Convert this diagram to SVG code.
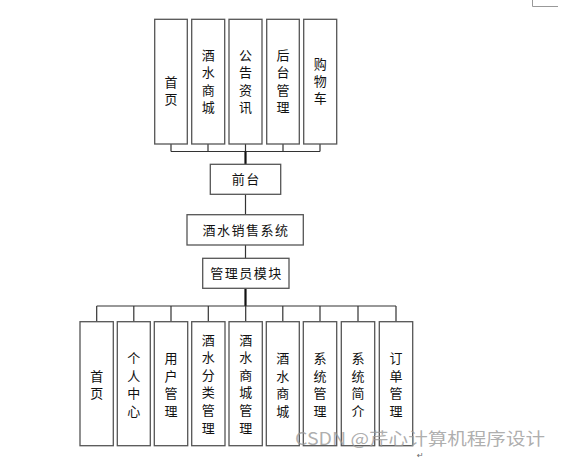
<svg xmlns="http://www.w3.org/2000/svg" width="562" height="459" viewBox="0 0 562 459">
<style>
.box{fill:#fff;stroke:#555;stroke-width:1.3}
.t{font-family:"Noto Sans CJK SC","Liberation Sans",sans-serif;font-size:13px;fill:#111;text-anchor:middle}
.ht{letter-spacing:1.5px}
.c{fill:none;stroke:#333;stroke-width:1.2}
.ct{fill:none;stroke:#111;stroke-width:2.2}
.wm{font-family:"Noto Sans CJK SC","Liberation Sans",sans-serif;font-size:17px;fill:#999;fill-opacity:0.8}
</style>
<rect width="562" height="459" fill="#fff"/>
<path d="M532.5,0 V6.5 H558" fill="none" stroke="#999" stroke-width="1"/>
<g id="connectors">
<path class="c" d="M171,144V151.5M208,144V151.5M245.5,144V151.5M283,144V151.5M320,144V151.5M171,151.5H320"/>
<path class="ct" d="M245.5,151.5V164.3"/>
<path class="c" d="M245.5,194.3V214.7M245.5,245V258.3"/>
<path class="ct" d="M245.5,288.3V306"/>
<path class="c" d="M96.7,306H396M96.7,306V321.7M133.8,306V321.7M171,306V321.7M208.3,306V321.7M245.7,306V321.7M282.8,306V321.7M320,306V321.7M358,306V321.7M396,306V321.7"/>
</g>
<g id="n_home_top"><rect class="box" x="154.7" y="19.3" width="32.6" height="124.7"/><text class="t" x="171" y="86.5">首<tspan x="171" dy="17.5">页</tspan></text></g>
<g id="n_shop_top"><rect class="box" x="191.7" y="19.3" width="33" height="124.7"/><text class="t" x="208.2" y="60">酒<tspan x="208.2" dy="17.4">水</tspan><tspan x="208.2" dy="17.4">商</tspan><tspan x="208.2" dy="17.4">城</tspan></text></g>
<g id="n_news"><rect class="box" x="229" y="19.3" width="33" height="124.7"/><text class="t" x="245.5" y="60">公<tspan x="245.5" dy="17.4">告</tspan><tspan x="245.5" dy="17.4">资</tspan><tspan x="245.5" dy="17.4">讯</tspan></text></g>
<g id="n_backend"><rect class="box" x="266.7" y="19.3" width="32.6" height="124.7"/><text class="t" x="283" y="60">后<tspan x="283" dy="17.4">台</tspan><tspan x="283" dy="17.4">管</tspan><tspan x="283" dy="17.4">理</tspan></text></g>
<g id="n_cart"><rect class="box" x="303.7" y="19.3" width="33" height="124.7"/><text class="t" x="320.2" y="68.5">购<tspan x="320.2" dy="17.4">物</tspan><tspan x="320.2" dy="17.4">车</tspan></text></g>
<g id="n_front"><rect class="box" x="210.3" y="164.3" width="70.4" height="30"/><text class="t ht" x="246.3" y="184.3">前台</text></g>
<g id="n_system"><rect class="box" x="187" y="214.7" width="116.3" height="30.3"/><text class="t ht" x="246" y="234.8">酒水销售系统</text></g>
<g id="n_admin"><rect class="box" x="202.7" y="258.3" width="86.3" height="30"/><text class="t ht" x="246.6" y="278.3">管理员模块</text></g>
<g id="n_home"><rect class="box" x="80" y="321.7" width="33.3" height="124"/><text class="t" x="96.7" y="380.5">首<tspan x="96.7" dy="17.5">页</tspan></text></g>
<g id="n_personal"><rect class="box" x="117.3" y="321.7" width="33" height="124"/><text class="t" x="133.8" y="363">个<tspan x="133.8" dy="17.5">人</tspan><tspan x="133.8" dy="17.5">中</tspan><tspan x="133.8" dy="17.5">心</tspan></text></g>
<g id="n_user"><rect class="box" x="154.3" y="321.7" width="33.4" height="124"/><text class="t" x="171" y="363">用<tspan x="171" dy="17.5">户</tspan><tspan x="171" dy="17.5">管</tspan><tspan x="171" dy="17.5">理</tspan></text></g>
<g id="n_category"><rect class="box" x="191.7" y="321.7" width="33.3" height="124"/><text class="t" x="208.3" y="344.5">酒<tspan x="208.3" dy="17.6">水</tspan><tspan x="208.3" dy="17.6">分</tspan><tspan x="208.3" dy="17.6">类</tspan><tspan x="208.3" dy="17.6">管</tspan><tspan x="208.3" dy="17.6">理</tspan></text></g>
<g id="n_shopmgr"><rect class="box" x="229" y="321.7" width="33.3" height="124"/><text class="t" x="245.7" y="344.5">酒<tspan x="245.7" dy="17.6">水</tspan><tspan x="245.7" dy="17.6">商</tspan><tspan x="245.7" dy="17.6">城</tspan><tspan x="245.7" dy="17.6">管</tspan><tspan x="245.7" dy="17.6">理</tspan></text></g>
<g id="n_shop"><rect class="box" x="266.3" y="321.7" width="33" height="124"/><text class="t" x="282.8" y="363">酒<tspan x="282.8" dy="17.5">水</tspan><tspan x="282.8" dy="17.5">商</tspan><tspan x="282.8" dy="17.5">城</tspan></text></g>
<g id="n_sysmgr"><rect class="box" x="303.3" y="321.7" width="33.4" height="124"/><text class="t" x="320" y="363">系<tspan x="320" dy="17.5">统</tspan><tspan x="320" dy="17.5">管</tspan><tspan x="320" dy="17.5">理</tspan></text></g>
<g id="n_intro"><rect class="box" x="341.3" y="321.7" width="33.4" height="124"/><text class="t" x="358" y="363">系<tspan x="358" dy="17.5">统</tspan><tspan x="358" dy="17.5">简</tspan><tspan x="358" dy="17.5">介</tspan></text></g>
<g id="n_order"><rect class="box" x="379.3" y="321.7" width="33.4" height="124"/><text class="t" x="396" y="363">订<tspan x="396" dy="17.5">单</tspan><tspan x="396" dy="17.5">管</tspan><tspan x="396" dy="17.5">理</tspan></text></g>
<text class="wm" x="295" y="445" textLength="250" lengthAdjust="spacingAndGlyphs">CSDN @芹心计算机程序设计</text>
<text x="417" y="458" font-family="DejaVu Sans, sans-serif" font-size="8" fill="#666">↵</text>
</svg>
